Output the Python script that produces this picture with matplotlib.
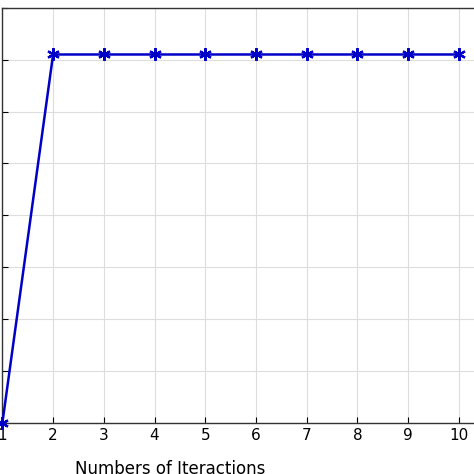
import matplotlib
matplotlib.use("Agg")
from matplotlib import pyplot as plt

iters = [1, 2, 3, 4, 5, 6, 7, 8, 9, 10]
values = [0, 7.1, 7.1, 7.1, 7.1, 7.1, 7.1, 7.1, 7.1, 7.1]

fig = plt.figure(figsize=(4.74, 4.74), dpi=100)
ax = fig.add_axes([0.005, 0.1076, 1.07, 0.876])
ax.plot(iters, values, color="#0000c8", marker=(6, 2, 0), markersize=9, linewidth=1.8,
        markeredgewidth=1.6, clip_on=False, zorder=3)
ax.set_xlim(1, 11)
ax.set_ylim(0, 8)
ax.set_xticks(range(1, 12))
ax.set_yticks(range(0, 9))
ax.set_yticklabels([])
ax.grid(True, color="#dddddd", linewidth=0.8)
ax.tick_params(direction="in", length=4, labelsize=11)
for s in ax.spines.values():
    s.set_linewidth(1.0)
    s.set_color("#333333")
ax.set_xlabel("Numbers of Iteractions", fontsize=12)
ax.xaxis.set_label_coords(0.33, -0.09)

fig.savefig("out.png", dpi=100)
